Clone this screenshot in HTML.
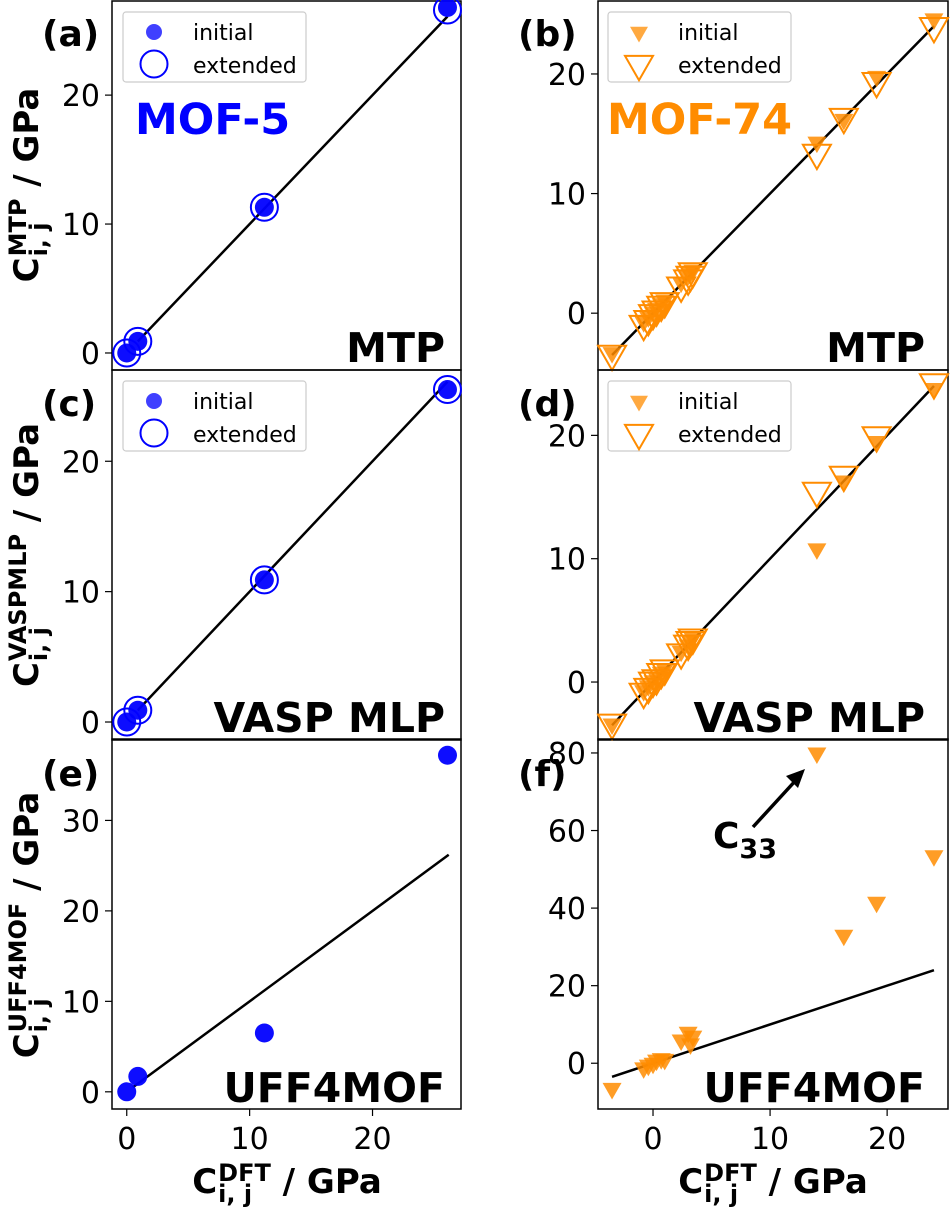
<!DOCTYPE html>
<html><head><meta charset="utf-8"><style>
body{margin:0;background:#fff}
svg{display:block;font-family:"DejaVu Sans","Liberation Sans",sans-serif}
.tt{position:absolute;white-space:nowrap;font:bold 34px 'DejaVu Sans',sans-serif}
.ss{display:inline-flex;flex-direction:column;vertical-align:middle;font-size:24px;line-height:21px;text-align:left;margin-left:1px}
</style></head><body>
<svg id="fig" width="950" height="1210" viewBox="0 0 950 1210" xmlns="http://www.w3.org/2000/svg"></svg>
<script>
// ---------- data ----------
const mof5X = [0, 0.9, 11.2, 26.1];
const mof5MtpInit = [0, 0.9, 11.3, 26.8];
const mof5MtpExt = [0, 0.9, 11.3, 26.6];
const mof5VaspInit = [0, 0.9, 10.9, 25.5];
const mof5VaspExt = [0, 0.9, 10.9, 25.5];
const mof5Uff = [0, 1.7, 6.5, 37.2];

const mof74X = [-3.5, -0.8, -0.4, 0, 0.3, 0.7, 1.0, 2.4, 3.0, 3.2, 3.4, 14.0, 16.3, 19.1, 24.0];
const mof74MtpInit = [-3.3, -0.7, -0.3, 0.1, 0.4, 0.8, 1.1, 2.6, 3.2, 3.4, 3.6, 14.3, 16.2, 19.8, 24.6];
const mof74MtpExt = [-3.4, -0.9, -0.5, 0, 0.3, 0.7, 1.0, 2.3, 2.9, 3.2, 3.5, 13.4, 16.4, 19.4, 24.0];
const mof74VaspInit = [-3.4, -0.7, -0.3, 0.1, 0.4, 0.8, 1.1, 2.5, 3.0, 3.3, 3.6, 10.8, 16.3, 19.5, 23.8];
const mof74VaspExt = [-3.3, -0.8, -0.4, 0.1, 0.3, 0.8, 1.1, 2.4, 3.1, 3.4, 3.6, 15.5, 16.8, 20.0, 24.3];
const mof74Uff = [-6.5, -1.2, -0.5, 0, 0.8, 1.2, 1.0, 6.0, 8.0, 5.0, 7.0, 80, 33, 41.5, 53.5];

const xTicksL = [0, 10, 20];
const xTicksR = [0, 10, 20];
const yTicksA = [0, 10, 20];
const yTicksB = [0, 10, 20];
const yTicksE = [0, 10, 20, 30];
const yTicksF = [0, 20, 40, 60, 80];

const BLUE = '#0000ff', ORANGE = '#ff8c00';
const NS = 'http://www.w3.org/2000/svg';
const svg = document.getElementById('fig');
function mk(tag, attrs, parent) {
  const e = document.createElementNS(NS, tag);
  for (const k in attrs) e.setAttribute(k, attrs[k]);
  (parent || svg).appendChild(e);
  return e;
}
function axes(px0, px1, py0, py1, xmin, xmax, ymin, ymax) {
  return {
    x: v => px0 + (v - xmin) / (xmax - xmin) * (px1 - px0),
    y: v => py1 - (v - ymin) / (ymax - ymin) * (py1 - py0),
    px0, px1, py0, py1
  };
}
function tri(g, cx, cy, w, fill, stroke, sw, op) {
  const h = w * 0.87;
  return mk('polygon', {points: `${cx - w / 2},${cy - h / 3} ${cx + w / 2},${cy - h / 3} ${cx},${cy + 2 * h / 3}`,
    fill: fill, stroke: stroke, 'stroke-width': sw, 'fill-opacity': op}, g);
}
function panel(name, ax, xTicks, yTicks, showX) {
  const g = mk('g', {});
  
  
  const fr = mk('rect', {x: ax.px0, y: ax.py0, width: ax.px1 - ax.px0, height: ax.py1 - ax.py0, fill: 'none', stroke: '#000', 'stroke-width': 1.5}, g);
  
  
  yTicks.forEach(t => {
    const y = ax.y(t);
    mk('line', {x1: ax.px0 - 7, x2: ax.px0, y1: y, y2: y, stroke: '#000', 'stroke-width': 1.2}, g);
    const tx = mk('text', {x: ax.px0 - 12, y: y + 11, 'text-anchor': 'end', 'font-size': 30}, g);
    tx.textContent = t;
    
    
  });
  if (showX) xTicks.forEach(t => {
    const x = ax.x(t);
    mk('line', {x1: x, x2: x, y1: ax.py1, y2: ax.py1 + 7, stroke: '#000', 'stroke-width': 1.2}, g);
    const tx = mk('text', {x: x, y: ax.py1 + 40, 'text-anchor': 'middle', 'font-size': 30}, g);
    tx.textContent = t;
    
    
  });
  return g;
}
function diag(g, ax, a, b) {
  const l = mk('line', {x1: ax.x(a), y1: ax.y(a), x2: ax.x(b), y2: ax.y(b), stroke: '#000', 'stroke-width': 2.5}, g);
  
  
}
function label(g, txt, x, y, size, color, anchor, nm) {
  const t = mk('text', {x: x, y: y, 'font-size': size, 'font-weight': 'bold', fill: color, 'text-anchor': anchor || 'start'}, g);
  t.textContent = txt;
  
  
  return t;
}
function legend(g, x, y, kind) {
  const lg = mk('g', {}, g);
  
  
  mk('rect', {x: x, y: y, width: 183, height: 70, rx: 3, fill: '#fff', stroke: '#ccc', 'stroke-width': 1.2}, lg);
  if (kind === 'c') {
    mk('circle', {cx: x + 31, cy: y + 20, r: 8, fill: BLUE, 'fill-opacity': 0.75}, lg);
    mk('circle', {cx: x + 31, cy: y + 52, r: 13.5, fill: 'none', stroke: BLUE, 'stroke-width': 2}, lg);
  } else {
    tri(lg, x + 31, y + 20, 18, ORANGE, 'none', 0, 0.75);
    tri(lg, x + 31, y + 52, 28, 'none', ORANGE, 2, 1);
  }
  const t1 = mk('text', {x: x + 70, y: y + 28, 'font-size': 22}, lg); t1.textContent = 'initial';
  
  
  const t2 = mk('text', {x: x + 70, y: y + 61, 'font-size': 22}, lg); t2.textContent = 'extended';
  
  
}
function circles(g, ax, xs, ys, filled, nm) {
  xs.forEach((v, i) => {
    const c = filled ? mk('circle', {cx: ax.x(v), cy: ax.y(ys[i]), r: 9.5, fill: BLUE, 'fill-opacity': 0.95}, g)
      : mk('circle', {cx: ax.x(v), cy: ax.y(ys[i]), r: 13.5, fill: 'none', stroke: BLUE, 'stroke-width': 2}, g);
    
    
  });
}
function tris(g, ax, xs, ys, filled, nm) {
  xs.forEach((v, i) => {
    const p = filled ? tri(g, ax.x(v), ax.y(ys[i]), 19, ORANGE, 'none', 0, 0.85)
      : tri(g, ax.x(v), ax.y(ys[i]), 28, 'none', ORANGE, 2, 1);
    
    
  });
}

const LX0 = 112, LX1 = 461, RX0 = 598, RX1 = 948;
const lxMin = -1.2, lxMax = 27.2, rxMin = -4.7, rxMax = 25.2;

// (a)
const axA = axes(LX0, LX1, 1, 370, lxMin, lxMax, -1.32, 27.3);
const gA = panel('panel-a', axA, xTicksL, yTicksA, false);
diag(gA, axA, 0.9, 26.1);
circles(gA, axA, mof5X, mof5MtpExt, false, 'marker-extended');
circles(gA, axA, mof5X, mof5MtpInit, true, 'marker-initial');
legend(gA, 123, 12, 'c');
label(gA, 'MOF-5', 135, 134, 43, BLUE, 'start', 'material-label');
label(gA, 'MTP', 445, 362, 41, '#000', 'end', 'method-label');
label(gA, '(a)', 42, 46, 36, '#000', 'start', 'panel-label');

// (b)
const axB = axes(RX0, RX1, 1, 370, rxMin, rxMax, -4.75, 26.1);
const gB = panel('panel-b', axB, xTicksR, yTicksB, false);
diag(gB, axB, -3.5, 24);
tris(gB, axB, mof74X, mof74MtpExt, false, 'marker-extended');
tris(gB, axB, mof74X, mof74MtpInit, true, 'marker-initial');
legend(gB, 608, 12, 't');
label(gB, 'MOF-74', 607, 134, 43, ORANGE, 'start', 'material-label');
label(gB, 'MTP', 925, 362, 41, '#000', 'end', 'method-label');
label(gB, '(b)', 518, 46, 36, '#000', 'start', 'panel-label');

// (c)
const axC = axes(LX0, LX1, 370, 740, lxMin, lxMax, -1.38, 27.0);
const gC = panel('panel-c', axC, xTicksL, yTicksA, false);
diag(gC, axC, 0.9, 26.1);
circles(gC, axC, mof5X, mof5VaspExt, false, 'marker-extended');
circles(gC, axC, mof5X, mof5VaspInit, true, 'marker-initial');
legend(gC, 123, 381, 'c');
label(gC, 'VASP MLP', 445, 732, 41, '#000', 'end', 'method-label');
label(gC, '(c)', 42, 416, 36, '#000', 'start', 'panel-label');

// (d)
const axD = axes(RX0, RX1, 370, 740, rxMin, rxMax, -4.7, 25.3);
const gD = panel('panel-d', axD, xTicksR, yTicksB, false);
diag(gD, axD, -3.5, 24);
tris(gD, axD, mof74X, mof74VaspExt, false, 'marker-extended');
tris(gD, axD, mof74X, mof74VaspInit, true, 'marker-initial');
legend(gD, 608, 381, 't');
label(gD, 'VASP MLP', 925, 732, 41, '#000', 'end', 'method-label');
label(gD, '(d)', 518, 416, 36, '#000', 'start', 'panel-label');

// (e)
const axE = axes(LX0, LX1, 739, 1109, lxMin, lxMax, -1.9, 39.0);
const gE = panel('panel-e', axE, xTicksL, yTicksE, true);
diag(gE, axE, 0.5, 26.2);
circles(gE, axE, mof5X, mof5Uff, true, 'marker-initial');
label(gE, 'UFF4MOF', 445, 1102, 41, '#000', 'end', 'method-label');
label(gE, '(e)', 42, 786, 36, '#000', 'start', 'panel-label');

// (f)
const axF = axes(RX0, RX1, 739, 1109, rxMin, rxMax, -11.8, 83.6);
const gF = panel('panel-f', axF, xTicksR, yTicksF, true);
diag(gF, axF, -3.5, 24);
tris(gF, axF, mof74X, mof74Uff, true, 'marker-initial');
label(gF, 'UFF4MOF', 925, 1102, 41, '#000', 'end', 'method-label');
label(gF, '(f)', 518, 786, 36, '#000', 'start', 'panel-label');
const ar = mk('g', {}, gF);


mk('line', {x1: 753, y1: 827, x2: 797, y2: 779, stroke: '#000', 'stroke-width': 3.5}, ar);
mk('polygon', {points: '805,769 786,776 798,788', fill: '#000'}, ar);
const ct = mk('text', {x: 713, y: 848, 'font-size': 36, 'font-weight': 'bold'}, ar);
ct.innerHTML = 'C<tspan font-size="27" dy="10">33</tspan>';
</script>
<div style="position:absolute;left:0;top:0;width:950px;height:1210px;pointer-events:none">
  <div class="tt" style="left:28px;top:185px;transform:translate(-50%,-50%) rotate(-90deg)">C<span class="ss"><span>MTP</span><span>i, j</span></span> / GPa</div>
  <div class="tt" style="left:28px;top:555px;transform:translate(-50%,-50%) rotate(-90deg)">C<span class="ss"><span>VASPMLP</span><span>i, j</span></span> / GPa</div>
  <div class="tt" style="left:28px;top:925px;transform:translate(-50%,-50%) rotate(-90deg)">C<span class="ss"><span>UFF4MOF</span><span>i, j</span></span> / GPa</div>
  <div class="tt" style="left:287px;top:1183px;transform:translate(-50%,-50%)">C<span class="ss"><span>DFT</span><span>i, j</span></span> / GPa</div>
  <div class="tt" style="left:773px;top:1183px;transform:translate(-50%,-50%)">C<span class="ss"><span>DFT</span><span>i, j</span></span> / GPa</div>
</div>
</body></html>
